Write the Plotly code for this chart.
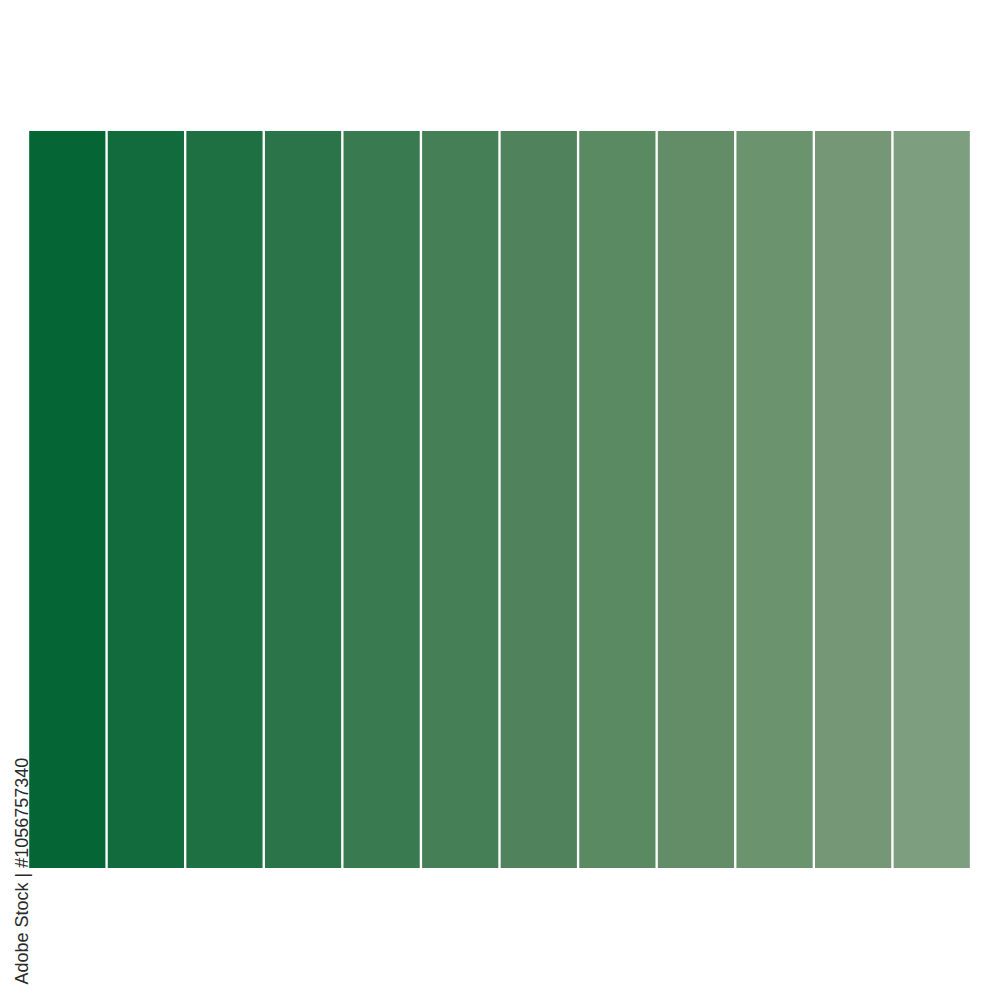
import plotly.graph_objects as go

# twelve equal swatches, dark to light green
swatches = [str(i) for i in range(1, 13)]
heights = [1] * 12
colors = ['#056535', '#126b3d', '#1e7043', '#2b7348', '#3a7a50', '#447f56',
          '#50835c', '#5a8a62', '#628d67', '#6b936d', '#759775', '#7e9e80']

fig = go.Figure(go.Bar(
    x=swatches, y=heights,
    marker=dict(color=colors, line=dict(width=0)),
    hoverinfo='skip',
))

fig.add_annotation(
    text='Adobe Stock | #1056757340',
    xref='paper', yref='paper', x=-0.0064, y=0.1533,
    xanchor='center', yanchor='top', textangle=-90,
    showarrow=False,
    font=dict(family='Liberation Sans', size=18, color='#2a2a2a'),
)

# page body adds 8px offset, so margins are shifted to compensate
fig.update_layout(
    width=1000, height=1000,
    margin=dict(l=20, r=37, t=123, b=140),
    bargap=0.03,
    plot_bgcolor='white',
    paper_bgcolor='white',
    showlegend=False,
    xaxis=dict(visible=False, range=[-0.5, 11.5]),
    yaxis=dict(visible=False, range=[0, 1]),
)

fig.write_html('out.html')
